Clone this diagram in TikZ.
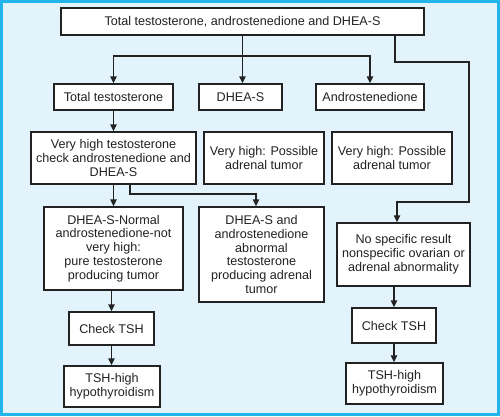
\documentclass[tikz,border=0pt]{standalone}
\usepackage{fontspec}
\setmainfont{Liberation Sans}
\usetikzlibrary{arrows.meta}
\definecolor{bgblue}{HTML}{E2F3FC}
\definecolor{frame}{HTML}{22B5EA}
\definecolor{ink}{HTML}{222222}
\tikzset{
  box/.style={draw=ink, line width=1.4pt, fill=white, align=center, inner sep=0pt,
    font=\fontsize{12.6}{13.8}\selectfont, text=ink},
  arr/.style={draw=ink, line width=1.4pt, -{Triangle[length=7pt,width=6.5pt]}},
  ln/.style={draw=ink, line width=1.4pt},
}
\begin{document}
\begin{tikzpicture}[x=1pt,y=-1pt]
\useasboundingbox (0,0) rectangle (500,416);
\fill[bgblue] (0,0) rectangle (500,416);
\draw[frame, line width=2.6pt] (1.3,1.3) rectangle (498.7,414.7);

\node[box, minimum width=363pt, minimum height=27pt] (top) at (242.5,21.5) {Total testosterone, androstenedione and DHEA-S};
\node[box, minimum width=119pt, minimum height=26pt] (tt) at (113.5,97) {Total testosterone};
\node[box, minimum width=83pt, minimum height=26pt] (dh) at (240.5,97) {DHEA-S};
\node[box, minimum width=108pt, minimum height=26pt] (an) at (370,97) {Androstenedione};
\node[box, minimum width=165pt, minimum height=52pt] (vh) at (113.5,158) {Very high testosterone\\check androstenedione and\\DHEA-S};
\node[box, minimum width=120pt, minimum height=52pt] (vm) at (264,158) {Very high: Possible\\adrenal tumor};
\node[box, minimum width=120pt, minimum height=52pt] (vr) at (392,158) {Very high: Possible\\adrenal tumor};
\node[box, minimum width=139pt, minimum height=83pt] (dn) at (113.5,248.5) {DHEA-S-Normal\\androstenedione-not\\very high:\\pure testosterone\\producing tumor};
\node[box, minimum width=125pt, minimum height=95pt] (da) at (261.5,254.5) {DHEA-S and\\androstenedione\\abnormal\\testosterone\\producing adrenal\\tumor};
\node[box, minimum width=133pt, minimum height=63pt] (ns) at (403.5,254.5) {No specific result\\nonspecific ovarian or\\adrenal abnormality};
\node[box, minimum width=85pt, minimum height=33pt] (ct1) at (111.5,328.5) {Check TSH};
\node[box, minimum width=96pt, minimum height=41pt] (th1) at (112,386.5) {TSH-high\\hypothyroidism};
\node[box, minimum width=84pt, minimum height=35pt] (ct2) at (394,325.5) {Check TSH};
\node[box, minimum width=97pt, minimum height=41pt] (th2) at (394.5,383.5) {TSH-high\\hypothyroidism};

% top split
\coordinate (j) at (242.5,56);
\draw[ln] (top.south) -- (j);
\draw[arr] (j) -| (tt.north);
\draw[arr] (j) -- (j |- dh.north);
\draw[arr] (j) -| (an.north);

% right path
\coordinate (r0) at (395,62);
\coordinate (r1) at (469,62);
\coordinate (r2) at (469,202);
\coordinate (r3) at (397,202);
\draw[arr] (top.south -| r0) -- (r0) -- (r1) -- (r2) -- (r3) -- (r3 |- ns.north);

% left chain
\draw[arr] (tt) -- (vh);
\draw[arr] (vh.south) -- (vh.south |- dn.north);
\coordinate (k1) at (130,194);
\coordinate (k2) at (256,194);
\draw[arr] (vh.south -| k1) -- (k1) -- (k2) -- (k2 |- da.north);
\draw[arr] (ct1.north |- dn.south) -- (ct1.north);
\draw[arr] (ct1.south) -- (ct1.south |- th1.north);

% right chain
\draw[arr] (ct2.north |- ns.south) -- (ct2.north);
\draw[arr] (ct2.south) -- (ct2.south |- th2.north);
\end{tikzpicture}
\end{document}
